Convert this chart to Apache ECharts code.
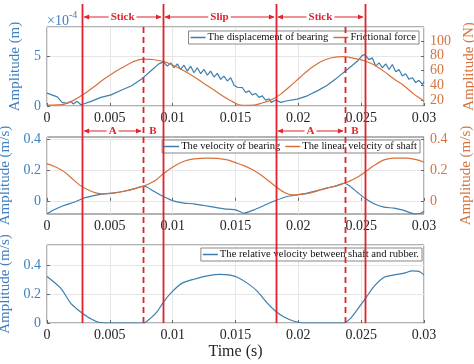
<!DOCTYPE html>
<html><head><meta charset="utf-8">
<script src="https://cdn.jsdelivr.net/npm/echarts@6/dist/echarts.min.js"></script>
<style>html,body{margin:0;padding:0;background:#fff}#c{width:474px;height:364px}</style>
</head><body><div id="c"></div>
<script>
// ---- data (time in s) ----
const xTicks = [0, 0.005, 0.01, 0.015, 0.02, 0.025, 0.03];
// displacement of bearing, units of 1e-4 m
const dispData = [[0,1.3],[0.00082,0.93],[0.0012,0.37],[0.0016,0.27],[0.0019,0.47],[0.0021,0.2],[0.0024,0.47],[0.0027,0.13],[0.0029,0.2],[0.0035,0.47],[0.0043,0.87],[0.0051,1.13],[0.0059,1.6],[0.0067,2.03],[0.0075,2.7],[0.0083,3.6],[0.0089,4.27],[0.00926,4.47],[0.00958,4.03],[0.00984,4.37],[0.01011,3.87],[0.01037,4.27],[0.01064,3.7],[0.0109,4.13],[0.01117,3.53],[0.01143,4.03],[0.0117,3.37],[0.01196,3.87],[0.01223,3.27],[0.01249,3.7],[0.01276,3.13],[0.01302,3.53],[0.01329,2.93],[0.01355,3.3],[0.01382,2.7],[0.01408,3.03],[0.01435,2.53],[0.01462,2.87],[0.01488,2.13],[0.01514,1.9],[0.01528,1.7],[0.01554,1.87],[0.01581,1.37],[0.01607,1.53],[0.01634,1.13],[0.0166,1.27],[0.01687,0.87],[0.01713,1.03],[0.0174,0.6],[0.01767,0.73],[0.01785,0.37],[0.0182,0.6],[0.0186,0.37],[0.01912,0.53],[0.01992,0.7],[0.02071,1.03],[0.02151,1.53],[0.0223,2.1],[0.0231,2.87],[0.0239,3.7],[0.02469,4.53],[0.02509,5.13],[0.0253,5.2],[0.02562,4.7],[0.02589,4.87],[0.02616,4.03],[0.02642,4.37],[0.02669,3.87],[0.02695,4.27],[0.02722,3.7],[0.02748,4.2],[0.02775,3.47],[0.02801,3.7],[0.02828,3.03],[0.02854,3.27],[0.02881,2.7],[0.02907,2.87],[0.02934,2.37],[0.0296,2.6],[0.02987,2.2],[0.03,2.47]];
// frictional force, N
const forceData = [[0,13.2],[0.0008,13.5],[0.0014,14.6],[0.00215,20],[0.00294,28.1],[0.00374,38],[0.00454,48.5],[0.00533,57.5],[0.00613,65.2],[0.00692,72.5],[0.00772,75.6],[0.00825,75.2],[0.00926,72.5],[0.01011,66.5],[0.0109,59.7],[0.0117,51.6],[0.01249,42.6],[0.01329,33.6],[0.01408,24.5],[0.01488,16.9],[0.01528,13.7],[0.016,13],[0.0165,13.2],[0.017,15.5],[0.0178,20],[0.0186,28.1],[0.01939,39.4],[0.02019,51.6],[0.02098,63],[0.02178,72],[0.02258,77],[0.02363,78.8],[0.02443,76.5],[0.02523,73.3],[0.02602,67.9],[0.02682,58.9],[0.02761,48.5],[0.02841,39.4],[0.0292,28.1],[0.02987,20],[0.03,18.2]];
// velocity of bearing, m/s
const bearingVelData = [[0,-0.084],[0.00056,-0.058],[0.00135,-0.03],[0.00215,-0.009],[0.00289,0.017],[0.00374,0.034],[0.00454,0.045],[0.00533,0.052],[0.00613,0.062],[0.00692,0.077],[0.00766,0.095],[0.00798,0.088],[0.00851,0.062],[0.00926,0.028],[0.01011,-0.002],[0.0109,-0.015],[0.0117,-0.019],[0.01249,-0.03],[0.01329,-0.041],[0.01408,-0.052],[0.01501,-0.058],[0.01568,-0.08],[0.01647,-0.058],[0.01727,-0.03],[0.0182,0.002],[0.01912,0.028],[0.01992,0.039],[0.02071,0.05],[0.02151,0.067],[0.0223,0.084],[0.0231,0.099],[0.02363,0.114],[0.02403,0.099],[0.02469,0.056],[0.02536,0.013],[0.02602,-0.019],[0.02682,-0.041],[0.02761,-0.047],[0.02841,-0.062],[0.0292,-0.084],[0.02974,-0.08],[0.03,-0.067]];
// linear velocity of shaft, m/s
const shaftVelData = [[0,0.239],[0.00056,0.224],[0.00122,0.196],[0.00188,0.153],[0.00255,0.105],[0.00321,0.073],[0.00387,0.052],[0.00454,0.045],[0.00533,0.05],[0.00613,0.062],[0.00692,0.077],[0.00766,0.095],[0.00825,0.116],[0.00878,0.142],[0.00931,0.179],[0.01011,0.224],[0.0109,0.256],[0.0117,0.271],[0.01276,0.277],[0.01355,0.275],[0.01435,0.265],[0.01514,0.243],[0.01568,0.228],[0.01647,0.196],[0.01727,0.153],[0.0182,0.092],[0.01886,0.056],[0.01952,0.039],[0.02019,0.041],[0.02098,0.052],[0.02178,0.071],[0.02258,0.088],[0.02337,0.105],[0.02363,0.114],[0.0239,0.121],[0.02469,0.153],[0.02536,0.189],[0.02602,0.228],[0.02682,0.265],[0.02761,0.277],[0.02867,0.277],[0.02947,0.265],[0.03,0.25]];
// relative velocity between shaft and rubber, m/s
const relVelData = [[0,0.322],[0.00109,0.241],[0.00188,0.138],[0.00241,0.095],[0.00281,0.068],[0.00348,0.03],[0.00414,0.005],[0.00493,0],[0.00766,0],[0.00825,0.034],[0.00878,0.081],[0.00931,0.15],[0.00998,0.219],[0.01077,0.276],[0.0117,0.303],[0.01276,0.326],[0.01382,0.336],[0.01448,0.333],[0.01514,0.317],[0.01594,0.276],[0.01674,0.219],[0.01753,0.138],[0.0182,0.081],[0.01886,0.041],[0.01966,0.012],[0.02045,0],[0.02363,0],[0.02417,0.034],[0.02469,0.092],[0.02536,0.172],[0.02602,0.253],[0.02682,0.317],[0.02761,0.333],[0.02841,0.345],[0.02907,0.361],[0.0296,0.357],[0.03,0.333]];
// phase boundaries
const solidT = [0.0028, 0.00923, 0.01822, 0.0253];
const dashedT = [0.00764, 0.02371];
const phaseLabels = ['Stick', 'Slip', 'Stick'];
const forceTicks = [20, 40, 60, 80, 100];
const velTicks = [0, 0.2, 0.4];

const F = 'Liberation Serif';
const BLUE = '#3b7fae', ORANGE = '#d9703a', BLUE_T = '#3f7fbf', ORANGE_T = '#d4733d', RED = '#e2222c';
const chart = echarts.init(document.getElementById('c'), null, {renderer: 'canvas'});
const grids = [
  {left: 47, top: 27, width: 377, height: 79},
  {left: 47, top: 137, width: 377, height: 77},
  {left: 47, top: 245, width: 377, height: 78}
].map(g => Object.assign(g, {show: true, borderColor: '#666', borderWidth: 1, backgroundColor: '#fff', containLabel: false, outerBoundsMode: 'none'}));

const xAxes = [0, 1, 2].map(i => ({
  type: 'value', gridIndex: i, min: 0, max: 0.03, interval: 0.005,
  axisLine: {show: false},
  axisTick: {inside: true, length: 3, lineStyle: {color: '#666'}},
  axisLabel: {fontFamily: F, fontSize: 14, color: '#262626', margin: 5,
    formatter: v => { const k = xTicks.findIndex(t => Math.abs(t - v) < 1e-9); return k >= 0 ? String(xTicks[k]) : ''; }},
  splitLine: {show: true, lineStyle: {color: '#e6e6e6', width: 1}},
  name: i === 2 ? 'Time (s)' : '', nameLocation: 'middle', nameGap: 21,
  nameTextStyle: {fontFamily: F, fontSize: 16, color: '#262626'}
}));

function yax(o) {
  const base = {
    type: 'value', axisLine: {show: false},
    axisTick: {inside: true, length: 3, lineStyle: {color: '#666'}},
    axisLabel: {fontFamily: F, fontSize: 14, color: o.color, margin: 6},
    splitLine: {show: false, lineStyle: {color: '#e6e6e6', width: 1}},
    nameLocation: 'middle',
    nameTextStyle: {fontFamily: F, fontSize: 15, color: o.color}
  };
  return Object.assign(base, o.extra);
}
const yAxes = [
  yax({color: BLUE_T, extra: {gridIndex: 0, position: 'left', min: 0, max: 8, interval: 5, name: 'Amplitude (m)', nameGap: 24,
    axisLabel: {fontFamily: F, fontSize: 14, color: BLUE_T, margin: 6, showMaxLabel: false},
    splitLine: {show: true, lineStyle: {color: '#e6e6e6'}}}}),
  yax({color: ORANGE_T, extra: {gridIndex: 0, position: 'right', min: 12, max: 119, name: 'Amplitude (N)', nameGap: 30,
    axisLabel: {fontFamily: F, fontSize: 14, color: ORANGE_T, margin: 6, customValues: forceTicks},
    axisTick: {inside: true, length: 3, lineStyle: {color: '#666'}, customValues: forceTicks}}}),
  yax({color: BLUE_T, extra: {gridIndex: 1, position: 'left', min: -0.085, max: 0.413, name: 'Amplitude (m/s)', nameGap: 24,
    axisLabel: {fontFamily: F, fontSize: 14, color: BLUE_T, margin: 6, customValues: velTicks},
    axisTick: {inside: true, length: 3, lineStyle: {color: '#666'}, customValues: velTicks},
    splitLine: {show: true, lineStyle: {color: '#e6e6e6'}, customValues: velTicks}}}),
  yax({color: ORANGE_T, extra: {gridIndex: 1, position: 'right', min: -0.085, max: 0.413, name: 'Amplitude (m/s)', nameGap: 30,
    axisLabel: {fontFamily: F, fontSize: 14, color: ORANGE_T, margin: 6, customValues: velTicks},
    axisTick: {inside: true, length: 3, lineStyle: {color: '#666'}, customValues: velTicks}}}),
  yax({color: BLUE_T, extra: {gridIndex: 2, position: 'left', min: 0, max: 0.54, interval: 0.2, name: 'Amplitude (m/s)', nameGap: 24,
    axisLabel: {fontFamily: F, fontSize: 14, color: BLUE_T, margin: 6, showMaxLabel: false},
    splitLine: {show: true, lineStyle: {color: '#e6e6e6'}}}})
];

function line(name, data, xi, yi, color, smooth) {
  return {name, type: 'line', xAxisIndex: xi, yAxisIndex: yi, data, showSymbol: false, smooth: smooth,
    lineStyle: {color, width: 1.2}, itemStyle: {color}, animation: false};
}
const series = [
  line('The displacement of bearing', dispData, 0, 0, BLUE, false),
  line('Frictional force', forceData, 0, 1, ORANGE, 0.3),
  line('The velocity of bearing', bearingVelData, 1, 2, BLUE, 0.2),
  line('The linear velocity of shaft', shaftVelData, 1, 3, ORANGE, 0.3),
  line('The relative velocity between shaft and rubber.', relVelData, 2, 4, BLUE, 0.25)
];

function legend(names, right, top) {
  return {data: names, right, top, orient: 'horizontal', icon: 'rect', itemWidth: 15, itemHeight: 1.5, itemGap: 5,
    padding: [1, 3, 1, 2], borderColor: '#888', borderWidth: 1, backgroundColor: '#fff',
    textStyle: {fontFamily: F, fontSize: 10.6, color: '#111', padding: [0, 0, 0, -3]}, selectedMode: false};
}

chart.setOption({
  animation: false,
  grid: grids, xAxis: xAxes, yAxis: yAxes, series,
  legend: [
    legend(['The displacement of bearing', 'Frictional force'], 55, 31),
    legend(['The velocity of bearing', 'The linear velocity of shaft'], 54, 140),
    legend(['The relative velocity between shaft and rubber.'], 52, 248)
  ]
});

// ---- annotations derived from data values via the axis scale ----
const px = t => chart.convertToPixel({xAxisIndex: 0}, t);
const meas = document.createElement('canvas').getContext('2d');
const els = [];
const topY = 4, botY = 323;
solidT.forEach(t => { const x = Math.round(px(t)) + 0.5;
  els.push({type: 'line', z: 100, shape: {x1: x, y1: topY, x2: x, y2: botY}, style: {stroke: RED, lineWidth: 1.8}}); });
dashedT.forEach(t => { const x = Math.round(px(t)) + 0.5;
  els.push({type: 'line', z: 100, shape: {x1: x, y1: 27, x2: x, y2: botY}, style: {stroke: RED, lineWidth: 1.8, lineDash: [6, 4]}}); });

const lblFont = 'bold 11px "Liberation Serif"';
meas.font = lblFont;
function span(x1, x2, y, label) {
  const w = meas.measureText(label).width, xm = (x1 + x2) / 2;
  const tl = xm - w / 2 - 2, tr = xm + w / 2 + 2;
  els.push({type: 'line', z: 101, shape: {x1: x1 + 2, y1: y, x2: tl, y2: y}, style: {stroke: RED, lineWidth: 1}});
  els.push({type: 'line', z: 101, shape: {x1: tr, y1: y, x2: x2 - 2, y2: y}, style: {stroke: RED, lineWidth: 1}});
  els.push({type: 'polygon', z: 101, shape: {points: [[x1 + 1.5, y], [x1 + 7, y - 2.5], [x1 + 7, y + 2.5]]}, style: {fill: RED}});
  els.push({type: 'polygon', z: 101, shape: {points: [[x2 - 1.5, y], [x2 - 7, y - 2.5], [x2 - 7, y + 2.5]]}, style: {fill: RED}});
  els.push({type: 'text', z: 101, x: xm, y: y, style: {text: label, fill: RED, font: lblFont, textAlign: 'center', textVerticalAlign: 'middle'}});
}
function tag(x1, x2, y, label) {
  els.push({type: 'text', z: 101, x: (x1 + x2) / 2, y: y, style: {text: label, fill: RED, font: lblFont, textAlign: 'center', textVerticalAlign: 'middle'}});
}
const S = solidT.map(px), D = dashedT.map(px);
span(S[0], S[1], 17, phaseLabels[0]);
span(S[1], S[2], 17, phaseLabels[1]);
span(S[2], S[3], 17, phaseLabels[2]);
span(S[0], D[0], 131, 'A'); tag(D[0], S[1], 131, 'B');
span(S[2], D[1], 131, 'A'); tag(D[1], S[3], 131, 'B');
// exponent label of the displacement axis
els.push({type: 'text', x: 47, y: 21, style: {text: '×10', fill: BLUE_T, font: '14px "Liberation Serif"', textAlign: 'left', textVerticalAlign: 'middle'}});
els.push({type: 'text', x: 69, y: 15, style: {text: '-4', fill: BLUE_T, font: '10px "Liberation Serif"', textAlign: 'left', textVerticalAlign: 'middle'}});
chart.setOption({graphic: {elements: els}});
</script></body></html>
